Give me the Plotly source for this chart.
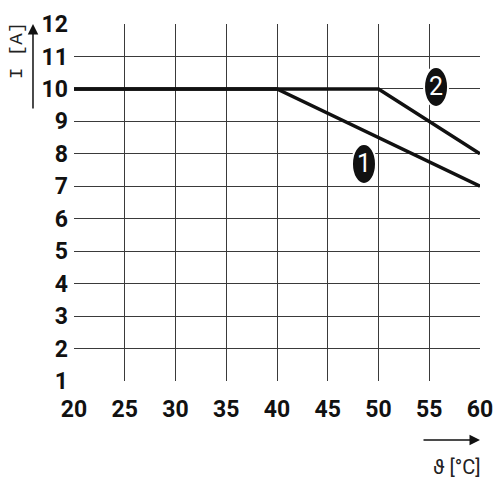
import plotly.graph_objects as go

# Data
curve1_x = [20, 40, 60]
curve1_y = [10, 10, 7]
curve2_x = [20, 50, 60]
curve2_y = [10, 10, 8]
label_text = ["1", "2"]
label_x = [48.57, 55.67]
label_y = [7.69, 10.06]
x_ticks = [20, 25, 30, 35, 40, 45, 50, 55, 60]
y_ticks = list(range(1, 13))

FONT = "Roboto, Liberation Sans, sans-serif"

fig = go.Figure()
fig.add_trace(go.Scatter(x=curve1_x, y=curve1_y, mode="lines",
                         line=dict(color="#111111", width=3.5), hoverinfo="skip"))
fig.add_trace(go.Scatter(x=curve2_x, y=curve2_y, mode="lines",
                         line=dict(color="#111111", width=3.5), hoverinfo="skip"))

shapes = []
annotations = []
for t, lx, ly in zip(label_text, label_x, label_y):
    shapes.append(dict(type="circle", xref="x", yref="y",
                       xsizemode="pixel", ysizemode="pixel",
                       xanchor=lx, yanchor=ly,
                       x0=-12, x1=12, y0=-20, y1=20,
                       fillcolor="#111111", line=dict(color="white", width=2)))
    annotations.append(dict(x=lx, y=ly, xref="x", yref="y", text=t,
                            showarrow=False, xanchor="center", yanchor="middle",
                            font=dict(family=FONT, size=25, color="white", weight="normal")))

# axis arrows
annotations.append(dict(xref="paper", yref="paper", x=-0.101, y=1.0,
                        ax=0, ay=86, axref="pixel", ayref="pixel",
                        showarrow=True, arrowhead=2, arrowsize=1.4, arrowwidth=1.5,
                        arrowcolor="#111111", text=""))
annotations.append(dict(xref="paper", yref="paper", x=1.0, y=-0.165,
                        ax=-58, ay=0, axref="pixel", ayref="pixel",
                        showarrow=True, arrowhead=2, arrowsize=1.4, arrowwidth=1.5,
                        arrowcolor="#111111", text=""))
annotations.append(dict(xref="paper", yref="paper", x=-0.14, y=0.925,
                        xanchor="center", yanchor="middle",
                        text="I [A]", textangle=-90, showarrow=False,
                        font=dict(family="Liberation Mono, DejaVu Sans Mono, monospace", size=19, color="#222222")))
annotations.append(dict(xref="paper", yref="paper", x=0.943, y=-0.24,
                        xanchor="center", yanchor="middle",
                        text="ϑ [°C]", showarrow=False,
                        font=dict(family=FONT, size=20, color="#222222")))

fig.update_layout(
    width=500, height=500,
    margin=dict(l=74, r=20, t=24, b=119, autoexpand=False),
    paper_bgcolor="white", plot_bgcolor="white",
    showlegend=False,
    shapes=shapes, annotations=annotations,
    xaxis=dict(range=[20, 60], tickvals=x_ticks, showgrid=True, gridcolor="#3a3a3a",
               gridwidth=1, zeroline=False, showline=False, automargin=False,
               tickfont=dict(family=FONT, size=23, color="#111111", weight="bold"),
               ticks="", ticklabelstandoff=12, fixedrange=True),
    yaxis=dict(range=[1, 12], tickvals=y_ticks, showgrid=True, gridcolor="#3a3a3a",
               gridwidth=1, zeroline=False, showline=False, automargin=False,
               tickfont=dict(family=FONT, size=23, color="#111111", weight="bold"),
               ticks="", ticklabelstandoff=5, fixedrange=True),
)

fig.write_html("out.html")
